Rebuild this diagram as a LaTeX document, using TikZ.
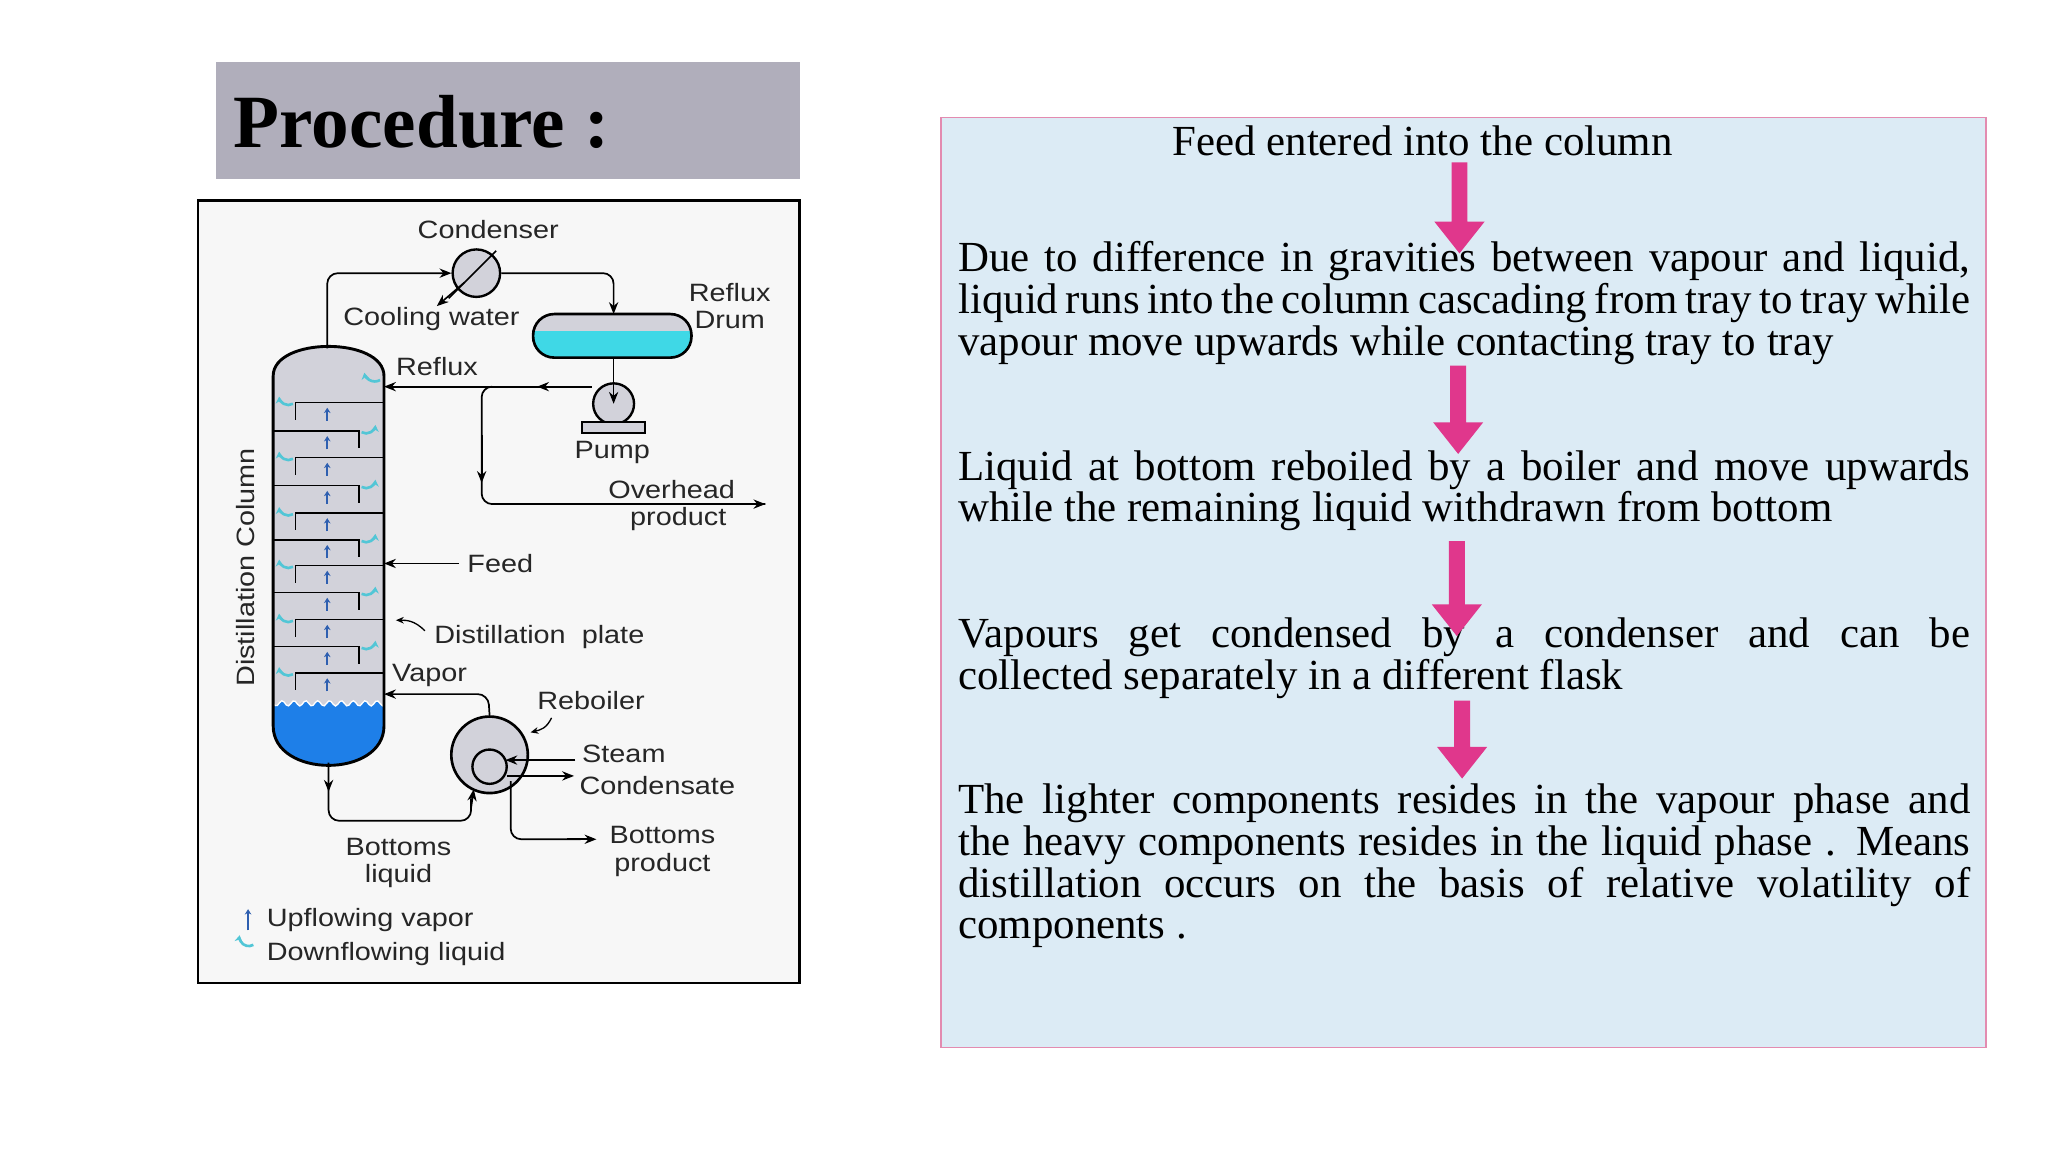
\documentclass[tikz,border=0pt]{standalone}
\usepackage{fontspec}
\setmainfont{Liberation Serif}
\newfontfamily\dsans[FakeStretch=1.15]{Liberation Sans}
\usetikzlibrary{arrows.meta}
\definecolor{titlegrey}{HTML}{B0AEBB}
\definecolor{panelblue}{HTML}{DCEBF5}
\definecolor{panelpink}{HTML}{E38BB0}
\definecolor{magarrow}{HTML}{E0378C}
\definecolor{colgrey}{HTML}{D2D2DA}
\definecolor{liqblue}{HTML}{1E7FE8}
\definecolor{drumcyan}{HTML}{3FD8E6}
\definecolor{vapblue}{HTML}{2E5FB0}
\definecolor{liqcyan}{HTML}{52C6D6}
\begin{document}
\hyphenpenalty=10000 \exhyphenpenalty=10000
\begin{tikzpicture}[x=1pt,y=-1pt,
  lbl/.style={font=\dsans\fontsize{19}{21}\selectfont, inner sep=0pt, text=black!85},
  pipe/.style={line width=1.3pt, rounded corners=8pt},
  arr/.style={-{Stealth[length=9pt,width=7pt]}},
  para/.style={font=\fontsize{32.5}{31.6}\selectfont, text width=767pt, align=justify, inner sep=0pt, anchor=north west},
  vap/.style={vapblue, line width=1.2pt, -{Stealth[length=4pt,width=5pt]}},
  liq/.style={liqcyan, line width=2pt, -{Stealth[length=5pt,width=6pt]}},
  tray/.style={line width=1.3pt}
]
\useasboundingbox (0,0) rectangle (1552,873);
\fill[white] (0,0) rectangle (1552,873);
% title
\fill[titlegrey] (164,47) rectangle (606,136);
\node[anchor=base west, inner sep=0pt, font=\bfseries\fontsize{57}{60}\selectfont] (title) at (177,112) {Procedure :};
% diagram frame
\draw[line width=1.8pt, fill=black!3] (150,152) rectangle (606,745);
% column
\def\colpath{(207,285) -- (207,550) .. controls (207,590) and (291,590) .. (291,550) -- (291,285) .. controls (291,255) and (207,255) .. (207,285) -- cycle}
\fill[colgrey] \colpath;
\begin{scope}
\clip \colpath;
\fill[liqblue] plot[domain=200:300, samples=60] (\x,{533+2*sin(\x*40)}) -- (300,600) -- (200,600) -- cycle;
\draw[white, line width=1pt] plot[domain=200:300, samples=60] (\x,{533+2*sin(\x*40)});
\end{scope}
\draw[line width=2.2pt] \colpath;
\node[coordinate] (coltop) at (248,264) {};
\node[coordinate] (colbot) at (249,578) {};
% trays
\foreach \y [count=\i] in {305,326.5,346.7,368,388.7,409,428.5,449,469.5,490,510}{
  \ifodd\i
    \draw[tray] (291,\y) -- (224,\y) -- (224,\y+13);
    \draw[liq] (222,\y+1) arc[start angle=60,end angle=175,radius=7];
  \else
    \draw[tray] (207,\y) -- (272,\y) -- (272,\y+13);
    \draw[liq] (274,\y+1) arc[start angle=120,end angle=5,radius=7];
  \fi
  \draw[vap] (248,\y+14) -- (248,\y+4);
}
\draw[liq] (288,288) arc[start angle=60,end angle=170,radius=8];
% labels column
\node[lbl, rotate=90] (dcol) at (186,430) {Distillation Column};
% condenser
\node[draw, circle, line width=1.8pt, fill=colgrey, minimum size=36pt, inner sep=0pt] (cond) at (361,207) {};
\draw[line width=1.2pt] (376,190) -- (340,226);
\draw[line width=1.2pt, arr] (352,214) -- (331,232);
\node[lbl] (condl) at (370,174) {Condenser};
\node[lbl] (cw) at (327,242) {Cooling water};
\draw[pipe, arr] (coltop) -- (248,207) -- (cond.west);
% drum
\begin{scope}
\clip[rounded corners=16pt] (404,238) rectangle (524,271);
\fill[colgrey] (404,238) rectangle (524,271);
\fill[drumcyan] (404,251) rectangle (524,271);
\end{scope}
\draw[line width=2pt, rounded corners=16pt] (404,238) rectangle (524,271);
\node[coordinate] (drum) at (465,238) {};
\node[coordinate] (drumb) at (465,271) {};
\draw[pipe, arr] (cond.east) -- (465,207) -- (drum);
\node[lbl, align=center] (rd) at (553,232) {Reflux\\Drum};
% pump
\node[draw, circle, line width=1.8pt, fill=colgrey, minimum size=31pt, inner sep=0pt] (pump) at (465,306) {};
\draw[line width=1.6pt, fill=colgrey] (441,320) rectangle (489,328);
\draw[line width=1.3pt, arr] (drumb) -- (pump.center);
\node[lbl] (pumpl) at (464,343) {Pump};
\node[coordinate] (refin) at (291,293) {};
\draw[line width=1.3pt, arr] (pump.west |- 0,293) -- (407,293);
\draw[line width=1.3pt, arr] (410,293) -- (refin);
\node[lbl, anchor=west] (refl) at (300,278) {Reflux};
\node[coordinate] (ovh) at (580,382) {};
\draw[pipe] (372,293) -- (365,293) -- (365,382) -- (ovh);
\draw[line width=1.3pt, arr] (365,330) -- (365,366);
\draw[line width=1.3pt, arr] (560,382) -- (ovh);
\node[lbl, align=center] (ovhl) at (509,383) {Overhead\\\hspace*{10pt}product};
% feed
\node[lbl, anchor=west] (feed) at (354,427) {Feed};
\draw[line width=1.3pt, arr] (feed.west) ++(-6,0) -- (291,427);
% distillation plate
\node[lbl, anchor=west] (dp) at (329,483) {Distillation\ \ plate};
\draw[line width=1pt, -{Stealth[length=6pt,width=5pt]}] (322,478) .. controls (314,470) and (308,470) .. (300,470);
% reboiler
\node[draw, circle, line width=2pt, fill=colgrey, minimum size=58pt, inner sep=0pt] (reb) at (371,572) {};
\node[draw, circle, line width=1.8pt, fill=colgrey, minimum size=26pt, inner sep=0pt] (rebin) at (371,581) {};
\node[lbl, anchor=west] (rebl) at (407,531) {Reboiler};
\draw[line width=1pt, -{Stealth[length=6pt,width=5pt]}] (418,544) .. controls (414,552) and (410,553) .. (402,555);
\node[lbl, anchor=west] (vapl) at (297,512) {Vapor};
\draw[pipe, arr] (reb.north) -- (370,526) -- (291,526);
\node[lbl, anchor=west] (steam) at (441,571) {Steam};
\draw[line width=1.3pt, arr] (436,576) -- (383,576);
\node[lbl, anchor=west] (conds) at (439,595) {Condensate};
\draw[line width=1.3pt, arr] (384,588) -- (435,588);
\draw[pipe] (387,592) -- (387,636) -- (440,636);
\draw[line width=1.3pt, arr] (430,636) -- (452,636);
\node[lbl, align=center] (bp) at (502,645) {Bottoms\\product};
\draw[pipe] (colbot) -- (249,622) -- (357,622) -- (357,605);
\draw[line width=1.3pt, arr] (249,580) -- (249,600);
\draw[line width=1.3pt, arr] (357,612) -- (359,598);
\node[lbl, align=center] (bl) at (302,654) {Bottoms\\liquid};
% legend
\draw[vap, line width=1.4pt] (188,705) -- (188,689);
\node[lbl, anchor=west] (up) at (202,697) {Upflowing vapor};
\draw[liq] (192,716) arc[start angle=60,end angle=190,radius=7];
\node[lbl, anchor=west] (down) at (202,723) {Downflowing liquid};
% right panel
\draw[panelpink, line width=1pt, fill=panelblue] (713,89) rectangle (1505,794);
\node[anchor=base, inner sep=0pt, font=\fontsize{32.5}{32}\selectfont] (s1) at (1078,118) {Feed entered into the column};
\node[para] (s2) at (726,183) {Due to difference in gravities between vapour and liquid, liquid runs into the column cascading from tray to tray while vapour move upwards while contacting tray to tray};
\node[para] (s3) at (726,341) {Liquid at bottom reboiled by a boiler and move upwards while the remaining liquid withdrawn from bottom};
\node[para] (s4) at (726,468) {Vapours get condensed by a condenser and can be\linebreak collected separately in a different flask};
\node[para] (s5) at (726,594) {The lighter components resides in the vapour phase and the heavy components resides in the liquid phase . Means distillation occurs on the basis of relative volatility of components .};
\foreach \x/\a/\b in {1106/123/192, 1105/277/344, 1104/410/482, 1108/531/590}{
  \fill[magarrow] (\x-6,\a) -- (\x+6,\a) -- (\x+6,\b-24) -- (\x+19,\b-24) -- (\x,\b) -- (\x-19,\b-24) -- (\x-6,\b-24) -- cycle;
}
\end{tikzpicture}
\end{document}
